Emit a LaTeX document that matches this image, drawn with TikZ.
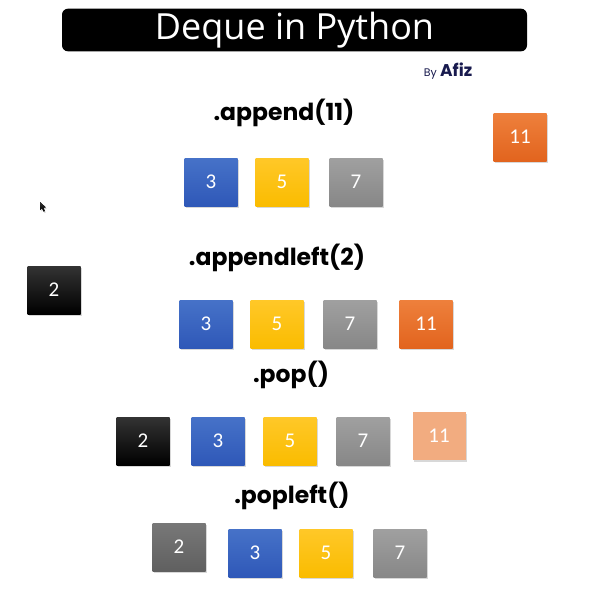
\documentclass[tikz,border=0pt]{standalone}
\usepackage{fontspec}
\setmainfont{Carlito}
\newfontfamily\titlefont{Open Sans}
\newfontfamily\opfont{Poppins}
\usepackage{tikz}
\usetikzlibrary{shadows}
\definecolor{cBlue}{RGB}{47,88,184}
\definecolor{cBlueTop}{RGB}{70,114,200}
\definecolor{cYellow}{RGB}{250,188,0}
\definecolor{cYellowTop}{RGB}{255,200,40}
\definecolor{cGray}{RGB}{135,135,135}
\definecolor{cGrayTop}{RGB}{160,160,160}
\definecolor{cOrange}{RGB}{226,100,30}
\definecolor{cOrangeTop}{RGB}{238,128,60}
\definecolor{cPeach}{RGB}{242,172,128}
\definecolor{cDark}{RGB}{96,96,96}
\definecolor{cNavy}{RGB}{24,26,78}
\tikzset{
	cell/.style   ={rectangle, minimum width=53pt, minimum height=48pt, inner sep=0pt, text=white,
	                font=\fontsize{21}{21}\selectfont,
	                drop shadow={opacity=0.3, shadow xshift=1pt, shadow yshift=-1.5pt}},
	blue/.style   ={cell, top color=cBlueTop, bottom color=cBlue},
	yellow/.style ={cell, top color=cYellowTop, bottom color=cYellow},
	gray/.style   ={cell, top color=cGrayTop, bottom color=cGray},
	orange/.style ={cell, top color=cOrangeTop, bottom color=cOrange},
	black/.style  ={cell, top color=black!80, bottom color=black},
	peach/.style  ={cell, fill=cPeach},
	dark/.style   ={cell, top color=cDark!85, bottom color=cDark},
	oplabel/.style={font=\opfont\bfseries\fontsize{23.5}{23.5}\selectfont, text=black},
}

\begin{document}
\begin{tikzpicture}[x=1pt, y=-1pt]
	\useasboundingbox[fill=white] (0,0) rectangle (592,600);
	% title bar
	\node[fill=black, rounded corners=6pt, minimum width=465pt, minimum height=42pt, text=white,
	      font=\titlefont\fontsize{36}{36}\selectfont] (title) at (294.5,30) {Deque in Python};
	\node[text=cNavy, anchor=base east, inner sep=1pt] (by) at (438,76) {\opfont\fontsize{11}{11}\selectfont By};
	\node[text=cNavy, anchor=base west, inner sep=2pt] (author) at (by.base east) {\opfont\bfseries\fontsize{17}{17}\selectfont Afiz};
	% .append(11)
	\node[oplabel] (opA) at (284,113) {.append(11)};
	\node[blue]   (a3)  at (211,182) {3};
	\node[yellow] (a5)  at (282,182) {5};
	\node[gray]   (a7)  at (356,182) {7};
	\node[orange] (a11) at (520,137) {11};
	% mouse pointer
	\fill[black] (40,202) -- (40,210) -- (42,208.2) -- (43.6,211.5) -- (44.8,211) -- (43.3,207.6) -- (45.8,207.4) -- cycle;
	% .appendleft(2)
	\node[oplabel] (opB) at (277,258) {.appendleft(2)};
	\node[black]  (b2)  at (54,290) {2};
	\node[blue]   (b3)  at (206,324) {3};
	\node[yellow] (b5)  at (277,324) {5};
	\node[gray]   (b7)  at (350,324) {7};
	\node[orange] (b11) at (426,324) {11};
	% .pop()
	\node[oplabel] (opC) at (291,375) {.pop()};
	\node[black]  (c2)  at (143,441) {2};
	\node[blue]   (c3)  at (218,441) {3};
	\node[yellow] (c5)  at (290,441) {5};
	\node[gray]   (c7)  at (363,441) {7};
	\node[peach]  (c11) at (439,436) {11};
	% .popleft()
	\node[oplabel] (opD) at (292,496) {.popleft()};
	\node[dark]   (d2)  at (179,547) {2};
	\node[blue]   (d3)  at (255,553) {3};
	\node[yellow] (d5)  at (326,553) {5};
	\node[gray]   (d7)  at (400,553) {7};
\end{tikzpicture}
\end{document}
